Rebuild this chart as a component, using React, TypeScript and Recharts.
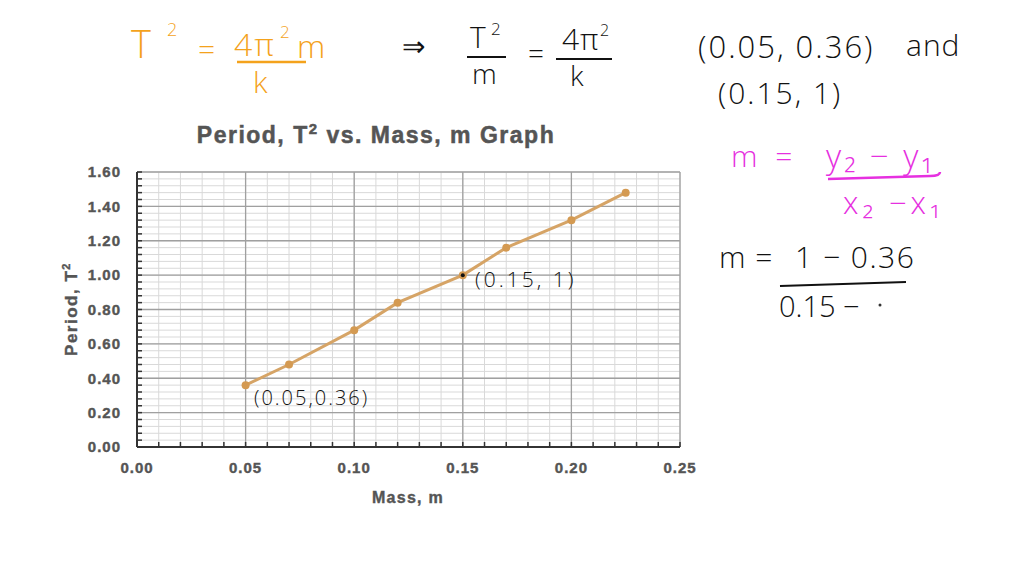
import React from "react";
import { LineChart, Line, XAxis, YAxis, CartesianGrid, ReferenceLine, ReferenceDot } from "recharts";

const massValues = [0.05, 0.07, 0.1, 0.12, 0.15, 0.17, 0.2, 0.225];
const periodSquared = [0.36, 0.48, 0.68, 0.84, 1.0, 1.16, 1.32, 1.48];

const xMinorTicks = Array.from({ length: 26 }, (_, i) => Math.round(i) / 100);
const yMinorTicks = Array.from({ length: 41 }, (_, i) => Math.round(i * 4) / 100);
const xMajorTicks = [0, 0.05, 0.1, 0.15, 0.2, 0.25];
const yMajorTicks = [0, 0.2, 0.4, 0.6, 0.8, 1.0, 1.2, 1.4, 1.6];

const data = massValues.map((m, i) => ({ m, t2: periodSquared[i] }));

const isMajor = (v: number, list: number[]) => list.some((t) => Math.abs(t - v) < 1e-9);

const hand = "'Open Sans', 'Noto Sans', sans-serif";
const bold = "'Liberation Sans', Arial, sans-serif";
const ORANGE = "#f4a21c";
const MAGENTA = "#e630e0";
const INK = "#111";

function Overlay() {
  return (
    <svg width={1024} height={576} style={{ position: "absolute", left: 0, top: 0, pointerEvents: "none" }}>
      <g fontFamily={hand} fontWeight={300}>
        {/* orange formula */}
        <text x={131} y={58} fontSize={38} fill={ORANGE}>T</text>
        <text x={167} y={36} fontSize={18} fill={ORANGE}>2</text>
        <text x={198} y={60} fontSize={30} fill={ORANGE}>=</text>
        <text x={234} y={56} fontSize={32} fill={ORANGE} letterSpacing={2}>4π</text>
        <text x={280} y={38} fontSize={17} fill={ORANGE}>2</text>
        <text x={297} y={58} fontSize={32} fill={ORANGE}>m</text>
        <line x1={237} y1={62} x2={306} y2={62} stroke={ORANGE} strokeWidth={2.5} />
        <text x={253} y={93} fontSize={30} fill={ORANGE}>k</text>

        {/* implies */}
        <text x={402} y={56} fontSize={28} fill={INK}>⇒</text>

        {/* T^2/m = 4pi^2/k */}
        <text x={470} y={48} fontSize={30} fill={INK}>T</text>
        <text x={491} y={35} fontSize={17} fill={INK}>2</text>
        <line x1={467} y1={57} x2={506} y2={57} stroke={INK} strokeWidth={2} />
        <text x={472} y={84} fontSize={28} fill={INK}>m</text>
        <text x={528} y={64} fontSize={28} fill={INK}>=</text>
        <text x={562} y={50} fontSize={30} fill={INK} letterSpacing={1}>4π</text>
        <text x={600} y={36} fontSize={16} fill={INK}>2</text>
        <line x1={556} y1={59} x2={612} y2={59} stroke={INK} strokeWidth={2} />
        <text x={570} y={86} fontSize={28} fill={INK}>k</text>

        {/* points */}
        <text x={698} y={58} fontSize={31} fill={INK} letterSpacing={2}>(0.05, 0.36)</text>
        <text x={906} y={56} fontSize={30} fill={INK} letterSpacing={1}>and</text>
        <text x={718} y={104} fontSize={30} fill={INK} letterSpacing={2}>(0.15, 1)</text>

        {/* slope formula magenta */}
        <text x={731} y={167} fontSize={30} fill={MAGENTA} letterSpacing={5}>m =</text>
        <text x={826} y={168} fontSize={33} fill={MAGENTA} letterSpacing={3}>y₂ − y₁</text>
        <path d="M828 179 L 930 176 Q 940 176 940 172" stroke={MAGENTA} strokeWidth={2.5} fill="none" />
        <text x={843} y={214} fontSize={31} fill={MAGENTA} letterSpacing={4}>x₂ −x₁</text>

        {/* numeric */}
        <text x={719} y={268} fontSize={30} fill={INK} letterSpacing={1}>m =</text>
        <text x={795} y={268} fontSize={30} fill={INK} letterSpacing={1.5}>1 − 0.36</text>
        <line x1={780} y1={286} x2={906} y2={282} stroke={INK} strokeWidth={2} />
        <text x={779} y={317} fontSize={29} fill={INK}>0.15 −</text>
        <circle cx={880} cy={305} r={1.5} fill="#333" />

        {/* on-chart annotations */}
        <text x={254} y={405} fontSize={20} fill={INK} letterSpacing={2}>(0.05,0.36)</text>
        <text x={475} y={287} fontSize={21} fill={INK} letterSpacing={3}>(0.15, 1)</text>
      </g>
      <text x={376} y={143} textAnchor="middle" fontFamily={bold} fontWeight="bold" fontSize={23} letterSpacing={1.5} fill="#555" stroke="#555" strokeWidth={0.5}>
        Period, T<tspan dy={-9} fontSize={15}>2</tspan><tspan dy={9}> vs. Mass, m Graph</tspan>
      </text>
      <text x={408} y={503} textAnchor="middle" fontFamily={bold} fontWeight="bold" fontSize={16} letterSpacing={1.3} fill="#555" stroke="#555" strokeWidth={0.4}>
        Mass, m
      </text>
      <text
        transform="translate(77,309) rotate(-90)"
        textAnchor="middle"
        fontFamily={bold}
        fontWeight="bold"
        fontSize={17}
        letterSpacing={1.5}
        fill="#555"
        stroke="#555"
        strokeWidth={0.4}
      >
        Period, T<tspan dy={-7} fontSize={11}>2</tspan>
      </text>
    </svg>
  );
}

export default function App() {
  const tickStyle = {
    fontFamily: bold,
    fontWeight: "bold",
    fontSize: 15,
    letterSpacing: 1,
    fill: "#555",
    stroke: "#555",
    strokeWidth: 0.4,
  };
  return (
    <div style={{ position: "absolute", left: 0, top: 0, width: 1024, height: 576, background: "#fff" }}>
      <LineChart width={1024} height={576} data={data} margin={{ top: 172, right: 344, bottom: 99, left: 0 }}>
        <CartesianGrid stroke="#d9d9d9" strokeWidth={1} />
        {xMajorTicks.map((v) => (
          <ReferenceLine key={"vx" + v} x={v} stroke="#a0a0a0" strokeWidth={1.3} />
        ))}
        {yMajorTicks.map((v) => (
          <ReferenceLine key={"hy" + v} y={v} stroke="#a0a0a0" strokeWidth={1.3} />
        ))}
        <XAxis
          dataKey="m"
          type="number"
          domain={[0, 0.25]}
          ticks={xMinorTicks}
          interval={0}
          height={30}
          tickSize={-5}
          tickMargin={20}
          tick={tickStyle}
          tickFormatter={(v: number) => (isMajor(v, xMajorTicks) ? v.toFixed(2) : "")}
          axisLine={{ stroke: "#333", strokeWidth: 2 }}
          tickLine={{ stroke: "#333", strokeWidth: 1.5 }}
        />
        <YAxis
          type="number"
          domain={[0, 1.6]}
          ticks={yMinorTicks}
          interval={0}
          width={137}
          tickSize={-5}
          tickMargin={21}
          tick={tickStyle}
          tickFormatter={(v: number) => (isMajor(v, yMajorTicks) ? v.toFixed(2) : "")}
          axisLine={{ stroke: "#333", strokeWidth: 2 }}
          tickLine={{ stroke: "#333", strokeWidth: 1.5 }}
        />
        <Line
          dataKey="t2"
          stroke="#d6a466"
          strokeWidth={3}
          dot={{ r: 4, fill: "#d49a52", stroke: "none" }}
          isAnimationActive={false}
        />
        <ReferenceDot x={0.15} y={1} r={2} fill="#111" stroke="none" />
      </LineChart>
      <Overlay />
    </div>
  );
}
